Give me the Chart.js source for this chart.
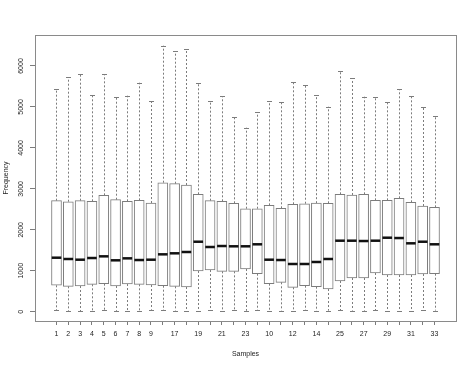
<!DOCTYPE html>
<html><head><meta charset="utf-8">
<script src="https://cdn.jsdelivr.net/npm/chart.js@4/dist/chart.umd.min.js"></script>
<style>html,body{margin:0;padding:0;background:#fff;overflow:hidden}canvas{display:block}</style>
</head><body>
<canvas id="c" width="474" height="366"></canvas>
<script>
const sampleNames = ['1','2','3','4','5','6','7','8','9','16','17','18','19','20','21','22','23','24','10','11','12','13','14','15','25','26','27','28','29','30','31','32','33'];
const shownTickLabels = ['1','2','3','4','5','6','7','8','9','17','19','21','23','10','12','14','25','27','29','31','33'];
const lowerWhisker = [34,17,17,25,30,22,28,25,49,30,24,20,26,32,28,30,22,35,28,26,24,30,22,25,30,28,26,30,24,28,26,30,28];
const lowerQuartile = [645,620,628,669,684,628,676,669,652,635,620,603,994,1018,986,986,1043,928,684,718,596,635,611,554,750,823,823,945,896,896,896,920,928];
const medians = [1319,1287,1270,1311,1352,1255,1303,1262,1270,1401,1426,1458,1709,1580,1604,1597,1597,1646,1270,1262,1165,1165,1214,1287,1734,1734,1726,1734,1807,1799,1670,1709,1646];
const upperQuartile = [2711,2686,2711,2696,2842,2735,2696,2720,2654,3150,3126,3094,2867,2711,2696,2647,2515,2515,2598,2525,2623,2637,2650,2647,2867,2850,2867,2720,2720,2769,2671,2581,2549];
const upperWhisker = [5431,5724,5797,5284,5805,5236,5275,5592,5153,6496,6359,6408,5592,5145,5267,4755,4493,4877,5145,5128,5617,5543,5288,5006,5885,5699,5250,5250,5113,5438,5275,5006,4771];
const yTickValues = [0,1000,2000,3000,4000,5000,6000];

const FONT = 'Liberation Sans, Arial, sans-serif';
const GRAY = '#7c7c7c';

const boxPlugin = {
  id: 'boxParts',
  beforeDatasetsDraw(chart) {
    const {ctx, scales: {x, y}} = chart;
    ctx.save();
    ctx.strokeStyle = GRAY;
    ctx.lineWidth = 1;
    sampleNames.forEach((n, i) => {
      const px = Math.round(x.getPixelForValue(i + 1)) + 0.5;
      ctx.setLineDash([2, 2]);
      ctx.beginPath();
      ctx.moveTo(px, y.getPixelForValue(upperQuartile[i]));
      ctx.lineTo(px, y.getPixelForValue(upperWhisker[i]));
      ctx.moveTo(px, y.getPixelForValue(lowerQuartile[i]));
      ctx.lineTo(px, y.getPixelForValue(lowerWhisker[i]));
      ctx.stroke();
      ctx.setLineDash([]);
      ctx.beginPath();
      const yh = Math.round(y.getPixelForValue(upperWhisker[i])) + 0.5;
      const yl = Math.round(y.getPixelForValue(lowerWhisker[i])) + 0.5;
      ctx.moveTo(px - 2.5, yh); ctx.lineTo(px + 2.5, yh);
      ctx.moveTo(px - 2.5, yl); ctx.lineTo(px + 2.5, yl);
      ctx.stroke();
    });
    ctx.restore();
  },
  afterDatasetsDraw(chart) {
    const {ctx, scales: {x, y}} = chart;
    ctx.save();
    ctx.strokeStyle = '#111';
    ctx.lineWidth = 2.5;
    sampleNames.forEach((n, i) => {
      const px = x.getPixelForValue(i + 1);
      const py = y.getPixelForValue(medians[i]);
      ctx.beginPath();
      ctx.moveTo(px - 4.8, py); ctx.lineTo(px + 4.8, py);
      ctx.stroke();
    });
    ctx.restore();
  },
  afterDraw(chart) {
    const {ctx, chartArea: a, scales: {y}} = chart;
    ctx.save();
    ctx.strokeStyle = '#8a8a8a';
    ctx.lineWidth = 1;
    ctx.strokeRect(a.left + 0.5, a.top + 0.5, a.right - a.left, a.bottom - a.top);
    ctx.fillStyle = '#222';
    ctx.font = '7px ' + FONT;
    ctx.textAlign = 'center';
    ctx.textBaseline = 'middle';
    yTickValues.forEach(v => {
      const py = y.getPixelForValue(v);
      ctx.save();
      ctx.translate(21.5, py);
      ctx.rotate(-Math.PI / 2);
      ctx.fillText(String(v), 0, 0);
      ctx.restore();
    });
    ctx.restore();
  }
};

new Chart(document.getElementById('c'), {
  type: 'bar',
  data: {
    datasets: [{
      data: sampleNames.map((n, i) => ({x: i + 1, y: [lowerQuartile[i], upperQuartile[i]]})),
      backgroundColor: '#ffffff',
      borderColor: GRAY,
      borderWidth: 1,
      borderSkipped: false,
      barThickness: 10
    }]
  },
  options: {
    responsive: false,
    animation: false,
    devicePixelRatio: 1,
    layout: {padding: {left: 0, top: 35, right: 18, bottom: 0}},
    plugins: {legend: {display: false}, tooltip: {enabled: false}},
    scales: {
      x: {
        type: 'linear',
        min: -0.82, max: 34.82,
        offset: false,
        afterBuildTicks: s => { s.ticks = sampleNames.map((n, i) => ({value: i + 1})); },
        afterFit: s => { s.height = 45; },
        grid: {offset: false, drawOnChartArea: false, drawTicks: true, tickLength: 4, color: GRAY},
        border: {display: false},
        ticks: {
          autoSkip: false, maxRotation: 0, minRotation: 0, padding: 5,
          color: '#222', font: {family: FONT, size: 7},
          callback: (v) => { const n = sampleNames[v - 1]; return shownTickLabels.includes(n) ? n : ''; }
        },
        title: {display: true, text: 'Samples', color: '#222', font: {family: FONT, size: 7}, padding: {top: 0, bottom: 8}}
      },
      y: {
        type: 'linear',
        min: -227, max: 6757,
        afterBuildTicks: s => { s.ticks = yTickValues.map(v => ({value: v})); },
        afterFit: s => { s.width = 35; },
        grid: {drawOnChartArea: false, drawTicks: true, tickLength: 5, color: GRAY},
        border: {display: false},
        ticks: {display: false},
        title: {display: true, text: 'Frequency', color: '#222', font: {family: FONT, size: 7}, padding: {top: 2, bottom: 0}}
      }
    }
  },
  plugins: [boxPlugin]
});
</script>
</body></html>
